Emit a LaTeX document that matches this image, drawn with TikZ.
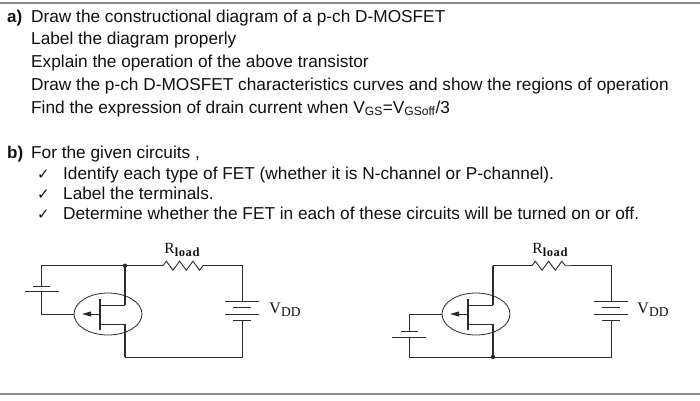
\documentclass[tikz,border=0pt]{standalone}
\usepackage{fontspec}
\setmainfont{Liberation Sans}
\newfontfamily\serifface{Liberation Serif}
\newfontfamily\symface{DejaVu Sans}
\usetikzlibrary{decorations.pathmorphing,arrows.meta}
\definecolor{ink}{HTML}{101010}
\definecolor{wirec}{HTML}{2B2B2B}
\definecolor{rulec}{HTML}{8C8C8C}
\newcommand{\rloadtext}{{\fontsize{15.5}{16}\selectfont R}\raisebox{-2.2pt}{\fontsize{12.5}{14}\selectfont\bfseries l\kern.6pt o\kern.6pt a\kern.6pt d}}
\newcommand{\vddtext}{{\fontsize{16}{16}\selectfont V}\raisebox{-2.6pt}{\fontsize{13.5}{14}\selectfont DD}}
\tikzset{
  x=1pt,y=-1pt,
  txt/.style={anchor=base west,inner sep=0pt,font=\fontsize{17.25}{19}\selectfont,text=ink},
  boldtxt/.style={txt,font=\bfseries\fontsize{17}{19}\selectfont},
  lab/.style={anchor=center,inner sep=0pt,font=\serifface,text=ink},
  tick/.style={anchor=base west,inner sep=0pt,font=\symface\fontsize{15}{16}\selectfont,text=ink},
  wire/.style={draw=wirec,line width=1pt},
  thick wire/.style={draw=wirec,line width=1.3pt},
  thin wire/.style={draw=wirec,line width=.8pt},
  res/.style={draw=wirec,line width=.9pt,decorate,decoration={zigzag,segment length=13.3pt,amplitude=4.5pt}},
  fetsym/.pic={
    \draw[thin wire] (0,0) ellipse [x radius=34,y radius=21];
    \draw[thick wire] (-8,-15) -- (-8,16);
    \draw[thin wire] (-8,-9) -- (17,-9) coordinate (-d);
    \draw[thin wire] (-8,10) -- (17,10) coordinate (-s);
    \draw[thin wire] (-8,0) -- (-20,0);
    \fill[wirec] (-26,0) -- (-17,-2.6) -- (-17,2.6) -- cycle;
    \coordinate (-g) at (-34,0);
  },
  vddsym/.pic={
    \draw[wire] (-17,-13) -- (17,-13);
    \draw[wire] (-9,-6.5) -- (9,-6.5);
    \draw[wire] (-17,0) -- (17,0);
    \draw[wire] (-9,6) -- (9,6);
    \coordinate (-t) at (0,-13);
    \coordinate (-b) at (0,6);
  },
  gatesym/.pic={
    \draw[wire] (-8.5,-2.6) -- (8.5,-2.6);
    \draw[wire] (-17,2.6) -- (17,2.6);
    \coordinate (-t) at (0,-2.6);
    \coordinate (-b) at (0,2.6);
  }
}
\begin{document}
\begin{tikzpicture}
\useasboundingbox (0,0) rectangle (700,400);
\fill[white] (0,0) rectangle (700,400);
\coordinate (rt1) at (0,3); \coordinate (rt2) at (700,3);
\coordinate (rb1) at (0,394); \coordinate (rb2) at (700,394);
\draw[rulec,line width=1.2pt] (rt1) -- (rt2);
\draw[rulec,line width=1.6pt] (rb1) -- (rb2);

\node[boldtxt] (a) at (7,22) {a)};
\node[txt] (a1) at (31,22) {Draw the constructional diagram of a p-ch D-MOSFET};
\node[txt] (a2) at (31,44) {Label the diagram properly};
\node[txt] (a3) at (31,67) {Explain the operation of the above transistor};
\node[txt] (a4) at (31,90) {Draw the p-ch D-MOSFET characteristics curves and show the regions of operation};
\node[txt] (a5) at (31,113) {Find the expression of drain current when V\textsubscript{GS}=V\textsubscript{GSoff}/3};
\node[boldtxt] (b) at (7,158) {b)};
\node[txt] (b0) at (31,158) {For the given circuits ,};
\node[tick] (c1) at (37,179) {✓};
\node[tick] (c2) at (37,199) {✓};
\node[tick] (c3) at (37,219) {✓};
\node[txt] (b1) at (63,179) {Identify each type of FET (whether it is N-channel or P-channel).};
\node[txt] (b2) at (63,199) {Label the terminals.};
\node[txt] (b3) at (63,219) {Determine whether the FET in each of these circuits will be turned on or off.};

% left circuit
\pic (fa) at (108,314) {fetsym};
\pic (va) at (242,314) {vddsym};
\pic (ga) at (41.7,288.7) {gatesym};
\coordinate (tl) at (41.7,265.7);
\coordinate (j1) at (125,265.7);
\coordinate (ra) at (163,265.7);
\coordinate (rb) at (203,265.7);
\coordinate (tr) at (242,265.7);
\coordinate (bl) at (125,357);
\coordinate (br) at (242,357);
\coordinate (gl) at (41.7,314);
\draw[wire] (ga-t) -- (tl) -- (j1) -- (ra);
\draw[res] (ra) -- (rb);
\draw[wire] (rb) -- (tr) -- (va-t);
\draw[wire] (va-b) -- (br) -- (bl);
\draw[thick wire] (j1) -- (fa-d);
\draw[thick wire] (fa-s) -- (bl);
\draw[wire] (ga-b) -- (gl) -- (fa-g);
\fill[wirec] (j1) circle (2.2);
\node[lab] (ra lab) at (182,250) {\rloadtext};
\node[lab] (va lab) at (285,310) {\vddtext};

% right circuit
\pic (fb) at (476,314) {fetsym};
\pic (vb) at (611,314) {vddsym};
\pic (gb) at (409,334.5) {gatesym};
\coordinate (tl2) at (493,265.7);
\coordinate (ra2) at (532,265.7);
\coordinate (rb2x) at (571,265.7);
\coordinate (tr2) at (611,265.7);
\coordinate (j2) at (493,357);
\coordinate (bl2) at (409,357);
\coordinate (br2) at (611,357);
\coordinate (gl2) at (409,314);
\draw[thick wire] (fb-d) -- (tl2);
\draw[wire] (tl2) -- (ra2);
\draw[res] (ra2) -- (rb2x);
\draw[wire] (rb2x) -- (tr2) -- (vb-t);
\draw[wire] (vb-b) -- (br2) -- (j2) -- (bl2) -- (gb-b);
\draw[thick wire] (fb-s) -- (j2);
\draw[wire] (gb-t) -- (gl2) -- (fb-g);
\fill[wirec] (j2) circle (2.2);
\node[lab] (rb lab) at (550,250) {\rloadtext};
\node[lab] (vb lab) at (653,310) {\vddtext};
\end{tikzpicture}
\end{document}
